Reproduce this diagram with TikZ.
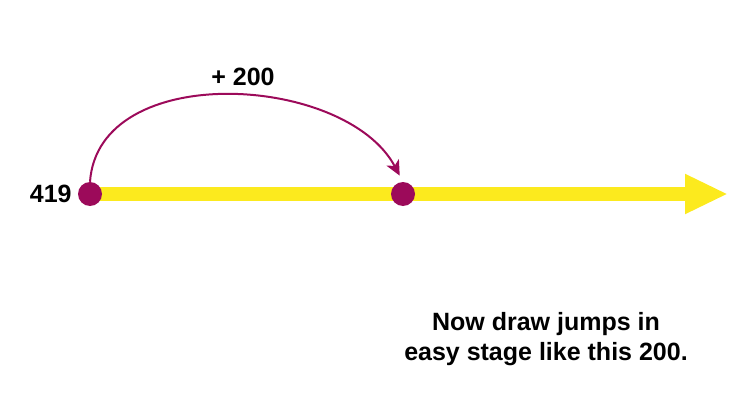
\documentclass[tikz,border=0pt]{standalone}
\usepackage{fontspec}
\setmainfont{Liberation Sans}
\usetikzlibrary{arrows.meta, positioning, backgrounds}

\definecolor{jumppurple}{HTML}{9C0A5A}
\definecolor{lineyellow}{HTML}{FCEA1E}

\begin{document}
\begin{tikzpicture}[x=1pt, y=1pt, >=latex,
    dot/.style={circle, fill=jumppurple, minimum size=24pt, inner sep=0pt},
    numtext/.style={inner sep=0pt, font=\fontsize{25}{30}\selectfont\bfseries}]

    \useasboundingbox (0,0) rectangle (750,416);

    % Nodes
    \coordinate (tip) at (728,222);
    \node [dot] (start) at (90,222) {};
    \node [dot] (stop) at (403,222) {};
    \node [numtext, left=6pt of start] (n419) {419};
    \node [numtext] (jump) at (243,339) {+ 200};
    \node [numtext, align=center] (note) at (546,77) {Now draw jumps in\\easy stage like this 200.};

    % Number line, under the dots
    \begin{pgfonlayer}{background}
    \draw [lineyellow, line width=14pt, -{Triangle[length=43pt, width=37pt]}] (start.center) -- (tip);
    \end{pgfonlayer}

    % Jump arc
    \draw [jumppurple, line width=2pt, -{Stealth[length=15pt, width=14pt, inset=4pt]}, shorten >=7pt]
        (start.north) to[out=86, in=118, looseness=1.0] (stop.north);

\end{tikzpicture}
\end{document}
